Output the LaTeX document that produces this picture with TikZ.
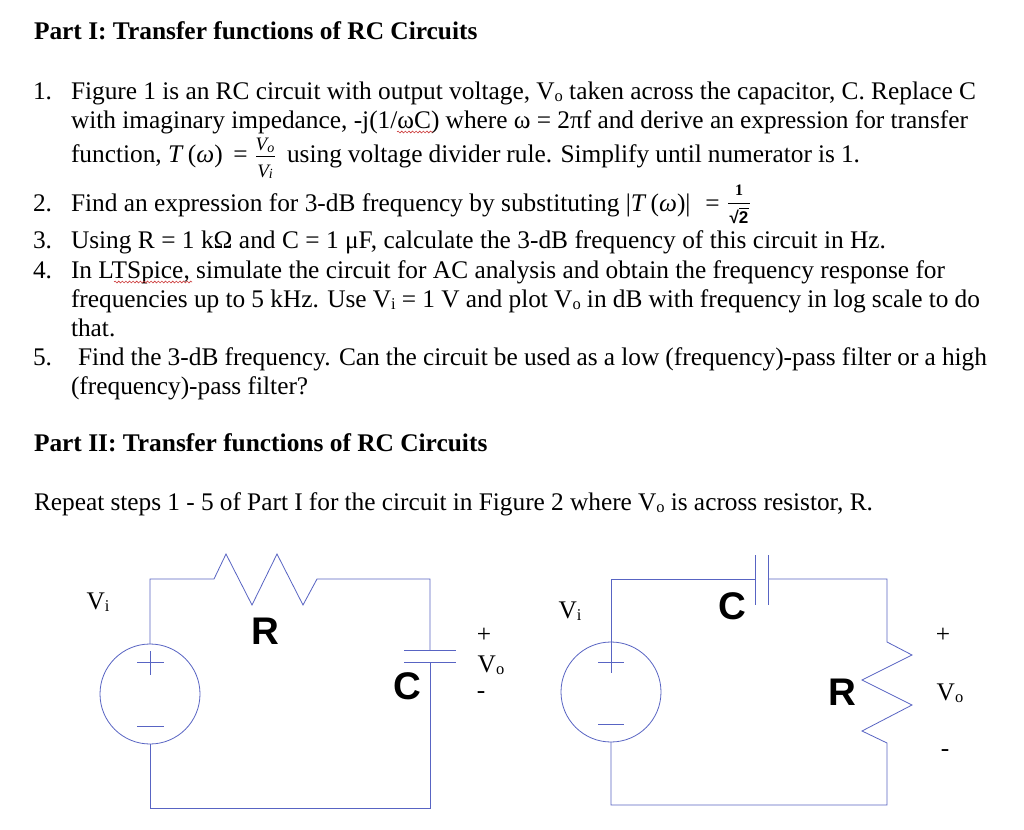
\documentclass[tikz,border=0pt]{standalone}
\usepackage{fontspec}
\setmainfont{Liberation Serif}
\setsansfont{Liberation Sans}
\usetikzlibrary{decorations.pathmorphing}
\definecolor{wire}{RGB}{88,100,195}
\definecolor{squig}{RGB}{205,60,60}
\newcommand{\sbs}[1]{\raisebox{-2pt}{\fontsize{16.5}{16.5}\selectfont #1}}
\newcommand{\Vo}{V\sbs{o}}
\newcommand{\Vi}{V\sbs{i}}
\tikzset{
  txt/.style={anchor=base west,inner sep=0pt,outer sep=0pt,font=\fontsize{25.35}{25.35}\selectfont},
  hd/.style={txt,font=\fontsize{25.4}{25.4}\selectfont\bfseries},
  mth/.style={anchor=base,inner sep=0pt,outer sep=0pt,font=\fontsize{19}{19}\selectfont\itshape},
  lbl/.style={anchor=center,inner sep=0pt,outer sep=0pt,font=\fontsize{25.35}{25.35}\selectfont},
  part/.style={anchor=center,inner sep=0pt,outer sep=0pt,font=\fontsize{38.5}{38.5}\selectfont\sffamily\bfseries},
  wireline/.style={draw=wire,line width=0.8pt,line join=miter},
  src/.style={circle,draw=wire,line width=0.8pt,minimum size=100pt,inner sep=0pt,outer sep=0pt},
  fracbar/.style={draw=black,line width=0.8pt},
  squiggle/.style={draw=squig,line width=0.6pt,decorate,decoration={snake,amplitude=0.9pt,segment length=3.6pt}}
}
\begin{document}
\begin{tikzpicture}[x=1pt,y=-1pt]
\useasboundingbox (0,0) rectangle (1024,829);
\fill[white] (0,0) rectangle (1024,829);
% text
\node[hd] (t0) at (34,40) {Part I: Transfer functions of RC Circuits};
\node[txt] (n1) at (33,100) {1.};
\node[txt] (l1) at (71,100) {\makebox[905pt][s]{Figure 1 is an RC circuit with output voltage, \Vo{} taken across the capacitor, C. Replace C}};
\node[txt] (l2) at (71,129) {\makebox[897pt][s]{with imaginary impedance, -j(1/ωC) where ω = 2πf and derive an expression for transfer}};
\node[txt] (l3) at (71,163) {function, \textit{T}\,(\textit{ω}) \,=};
\node[mth] (f1n) at (265,151) {V\raisebox{-1.5pt}{\fontsize{14}{14}\selectfont o}};
\node[mth] (f1d) at (265,177) {V\raisebox{-1.5pt}{\fontsize{14}{14}\selectfont i}};
\coordinate (f1a) at (256,156.5); \coordinate (f1b) at (275,156.5);
\draw[fracbar] (f1a) -- (f1b);
\node[txt] (l3b) at (287,163) {\makebox[573pt][s]{using voltage divider rule. Simplify until numerator is 1.}};
\node[txt] (n2) at (33,211) {2.};
\node[txt] (l4) at (71,211) {Find an expression for 3-dB frequency by substituting |\textit{T}\,(\textit{ω})|\, \,=};
\node[mth,font=\fontsize{16}{16}\selectfont\bfseries] (f2n) at (739,195) {1};
\node[mth,font=\fontsize{17}{17}\selectfont\sffamily\bfseries] (f2d) at (739,223) {√2};
\coordinate (f2a) at (728,203.5); \coordinate (f2b) at (750,203.5);
\draw[fracbar] (f2a) -- (f2b);
\coordinate (f2c) at (739,208); \coordinate (f2e) at (749,208);
\draw[fracbar,line width=0.6pt] (f2c) -- (f2e);
\node[txt] (n3) at (33,248) {3.};
\node[txt] (l5) at (71,248) {\makebox[815pt][s]{Using R = 1 kΩ and C = 1 μF, calculate the 3-dB frequency of this circuit in Hz.}};
\node[txt] (n4) at (33,278) {4.};
\node[txt] (l6) at (71,278) {\makebox[874pt][s]{In LTSpice, simulate the circuit for AC analysis and obtain the frequency response for}};
\node[txt] (l7) at (71,307) {\makebox[909pt][s]{frequencies up to 5 kHz. Use V\sbs{i} = 1 V and plot \Vo{} in dB with frequency in log scale to do}};
\node[txt] (l8) at (71,336) {that.};
\node[txt] (n5) at (33,365) {5.};
\node[txt] (l9) at (78,365) {\makebox[909pt][s]{Find the 3-dB frequency. Can the circuit be used as a low (frequency)-pass filter or a high}};
\node[txt] (l10) at (71,394) {(frequency)-pass filter?};
\node[hd] (t1) at (34,451) {Part II: Transfer functions of RC Circuits};
\node[txt] (l11) at (34,510) {\makebox[839pt][s]{Repeat steps 1 - 5 of Part I for the circuit in Figure 2 where \Vo{} is across resistor, R.}};
\coordinate (sq1a) at (397,132); \coordinate (sq1b) at (433,132);
\draw[squiggle] (sq1a) -- (sq1b);
\coordinate (sq2a) at (114,282); \coordinate (sq2b) at (192,282);
\draw[squiggle] (sq2a) -- (sq2b);
% circuit 1
\node[src] (v1) at (150,694) {};
\coordinate (a1) at (150,579); \coordinate (a2) at (214,579); \coordinate (a3) at (317,579);
\coordinate (a4) at (430,579); \coordinate (a5) at (430,650); \coordinate (a6) at (430,662);
\coordinate (a7) at (430,808); \coordinate (a8) at (150,808);
\draw[wireline] (v1.north) -- (a1) -- (a2) -- (226,554) -- (252,605) -- (277,554) -- (303,605) -- (a3) -- (a4) -- (a5);
\draw[wireline] (a6) -- (a7) -- (a8) -- (v1.south);
\draw[wireline] (404,650) -- (456,650);
\draw[wireline] (404,662) -- (456,662);
\draw[wireline] (137,662) -- (164,662);
\draw[wireline] (150,651) -- (150,675);
\draw[wireline] (137,726) -- (164,726);
\node[lbl] (vi1) at (98,602) {\Vi};
\node[part] (r1) at (265,631) {R};
\node[part] (c1) at (407,686) {C};
\node[lbl] (p1) at (484,635) {+};
\node[lbl] (vo1) at (491,665) {\Vo};
\node[lbl] (m1) at (481,695) {-};
% circuit 2
\node[src] (v2) at (611,692) {};
\coordinate (b1) at (611,579); \coordinate (b2) at (755,579); \coordinate (b3) at (768,579);
\coordinate (b4) at (887,579); \coordinate (b5) at (887,642); \coordinate (b6) at (887,743);
\coordinate (b7) at (887,805); \coordinate (b8) at (611,805);
\draw[wireline] (v2.north) -- (b1) -- (b2);
\draw[wireline] (b3) -- (b4) -- (b5) -- (912,655) -- (862,680) -- (912,705) -- (862,731) -- (b6) -- (b7) -- (b8) -- (v2.south);
\draw[wireline] (755,555) -- (755,605);
\draw[wireline] (768,555) -- (768,605);
\draw[wireline] (598,662) -- (624,662);
\draw[wireline] (611,642) -- (611,673);
\draw[wireline] (598,724) -- (624,724);
\node[lbl] (vi2) at (570,611) {\Vi};
\node[part] (c2) at (732,606) {C};
\node[part] (r2) at (842,692) {R};
\node[lbl] (p2) at (943,635) {+};
\node[lbl] (vo2) at (950,693) {\Vo};
\node[lbl] (m2) at (945,753) {-};
\end{tikzpicture}
\end{document}
